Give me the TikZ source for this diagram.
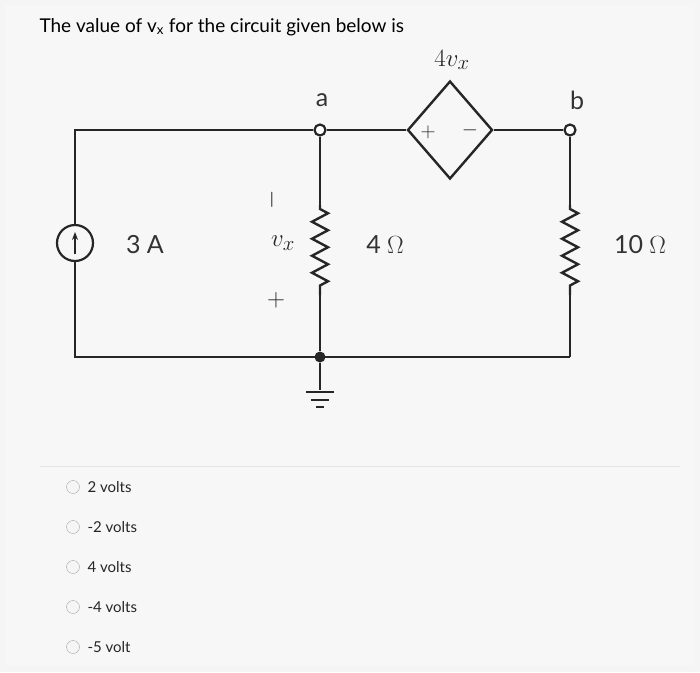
\documentclass[tikz,border=0pt]{standalone}
\usepackage{fontspec}
\setsansfont{Lato}
\usetikzlibrary{decorations.pathmorphing,shapes.geometric,arrows.meta}
\begin{document}
\begin{tikzpicture}[x=1pt,y=-1pt,
  wire/.style={line width=2.4pt,black!85},
  res/.style={wire,decorate,decoration={zigzag,segment length=17pt,amplitude=8pt,pre length=4pt,post length=4pt}},
  term/.style={circle,draw=black!85,line width=2.2pt,fill=white,inner sep=0pt,minimum size=11pt},
  lab/.style={font=\sffamily\fontsize{25}{25}\selectfont,text=black!80},
  opt/.style={circle,draw=black!35,fill=black!4,inner sep=0pt,minimum size=13pt},
  opttxt/.style={font=\sffamily\fontsize{15}{15}\selectfont,anchor=west,text=black!85}]
\fill[black!4] (0,0) rectangle (700,672);
\fill[white!97!black] (5,5) rectangle (695,665);
\node[anchor=west,font=\sffamily\fontsize{19}{19}\selectfont] (title) at (36,27) {The value of v\textsubscript{x} for the circuit given below is};
% nodes
\coordinate (tl) at (75,130);
\coordinate (bl) at (75,357);
\coordinate (br) at (570,357);
\node[term] (a) at (320,130) {};
\node[term] (b) at (570,130) {};
\node[circle,fill=black!85,inner sep=0pt,minimum size=11pt] (g) at (320,357) {};
\node[circle,draw=black!85,line width=2.2pt,minimum size=36pt,inner sep=0pt] (src) at (75,243) {};
\node[diamond,draw=black!85,line width=2.4pt,minimum width=85pt,minimum height=98pt,inner sep=0pt] (dep) at (450,130) {};
\coordinate (r1t) at (320,205);
\coordinate (r1b) at (320,295);
\coordinate (r2t) at (570,205);
\coordinate (r2b) at (570,295);
\coordinate (gnd) at (320,390);
% wires
\draw[wire] (src.north) -- (tl) -- (a) -- (dep.west);
\draw[wire] (dep.east) -- (b);
\draw[wire] (src.south) -- (bl) -- (br);
\draw[wire] (a) -- (r1t);
\draw[res] (r1t) -- (r1b);
\draw[wire] (r1b) -- (g);
\draw[wire] (b) -- (r2t);
\draw[res] (r2t) -- (r2b);
\draw[wire] (r2b) -- (br);
\draw[wire] (g) -- (gnd);
\draw[wire] (306,392) -- (334,392);
\draw[wire] (311,400) -- (329,400);
\draw[wire] (316,407) -- (324,407);
\draw[-{Stealth[length=8pt]},line width=2pt,black!85] ([yshift=-11pt]src.center) -- ([yshift=11pt]src.center);
% labels
\node[lab] (l3a) at (145,245) {3 A};
\node[lab] (l4) at (385,245) {4 $\Omega$};
\node[lab] (l10) at (640,245) {10 $\Omega$};
\node[lab] (la) at (322,100) {a};
\node[lab] (lb) at (577,100) {b};
\node[font=\fontsize{30}{30}\selectfont,text=black!85] (l4v) at (452,60) {$4v_x$};
\node[font=\fontsize{28}{28}\selectfont,text=black!85] (lvx) at (283,243) {$v_x$};
\node[font=\fontsize{28}{28}\selectfont,text=black!85,rotate=90] (lm) at (272,200) {$-$};
\node[font=\fontsize{28}{28}\selectfont,text=black!85] (lp) at (276,300) {$+$};
\node[font=\fontsize{22}{22}\selectfont,text=black!85] (dp) at (428,132) {$+$};
\node[font=\fontsize{22}{22}\selectfont,text=black!85] (dm) at (470,130) {$-$};
% separator
\draw[black!10,line width=0.8pt] (40,466) -- (680,466);
% options
\foreach \y/\t [count=\i] in {487/2 volts,527/-2 volts,567/4 volts,607/-4 volts,647/-5 volt}{
  \node[opt] (o\i) at (73,\y) {};
  \node[opttxt] (t\i) at (84,\y) {\t};
}
\end{tikzpicture}
\end{document}
